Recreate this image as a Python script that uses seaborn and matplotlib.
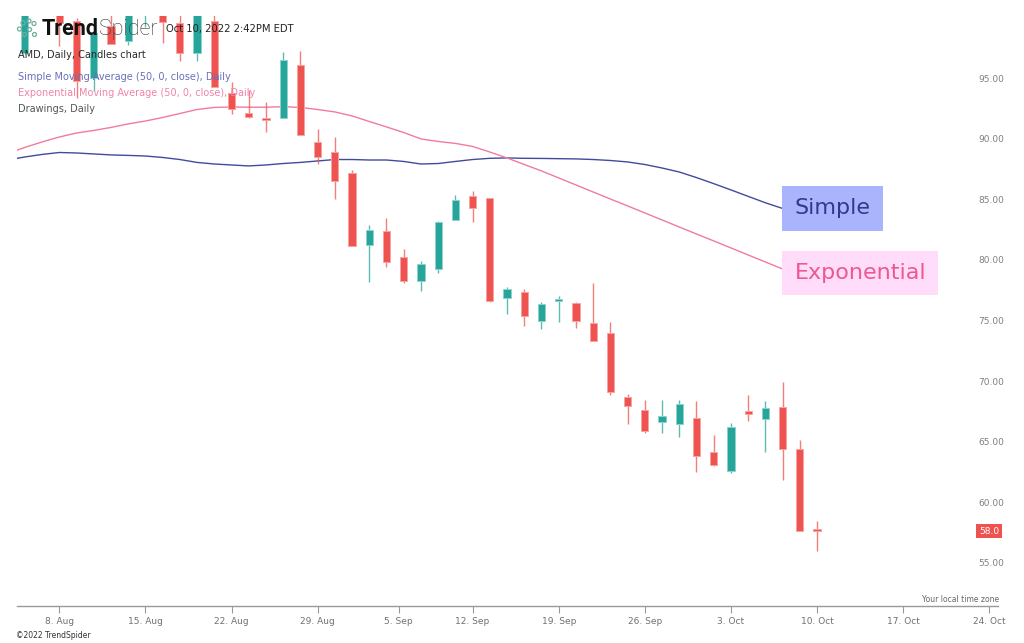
import numpy as np
import pandas as pd
import matplotlib
matplotlib.use("Agg")
import matplotlib.pyplot as plt
import matplotlib.transforms as mtransforms
from matplotlib.patches import Ellipse
import seaborn as sns

# ---------------- data ----------------
holidays = ["2022-09-05"]
candle_start, candle_end = "2022-08-04", "2022-10-10"
ma_start, ma_end = "2022-08-03", "2022-10-06"

opens = [97.12, 100.8, 101.0, 99.73, 95.06, 99.31, 98.08, 100.6, 100.9, 99.59,
         97.06, 99.73, 93.76, 92.17, 91.73, 91.68, 96.10, 89.75, 88.92, 87.14,
         81.25, 82.41, 80.24, 78.23, 79.25, 83.31, 85.29, 85.10, 76.88, 77.38,
         74.93, 76.60, 76.44, 74.77, 73.97, 68.69, 67.59, 66.60, 66.46, 66.98,
         64.10, 62.56, 67.51, 66.88, 67.87, 64.38, 57.80]
highs = [101.8, 103.0, 101.5, 100.0, 98.80, 100.6, 101.2, 102.2, 101.5, 100.5,
         101.0, 100.5, 94.69, 94.04, 93.00, 97.20, 97.25, 90.85, 90.11, 87.44,
         82.88, 83.43, 80.92, 79.93, 83.20, 85.35, 85.71, 85.10, 77.74, 77.60,
         76.50, 77.00, 76.50, 78.07, 74.85, 68.91, 68.44, 68.44, 68.44, 68.36,
         65.58, 66.52, 68.83, 68.36, 69.90, 65.17, 58.44]
lows = [97.00, 100.4, 97.66, 93.41, 93.95, 97.80, 97.75, 99.26, 97.94, 96.43,
        96.43, 94.30, 92.03, 91.73, 90.60, 91.68, 90.30, 87.91, 85.00, 81.12,
        78.15, 79.44, 78.07, 77.41, 78.92, 83.30, 83.10, 76.50, 75.54, 74.57,
        74.30, 74.85, 74.40, 73.30, 68.86, 66.46, 65.67, 65.67, 65.37, 62.48,
        63.00, 62.40, 66.69, 64.18, 61.87, 57.60, 55.93]
closes = [101.5, 102.3, 99.59, 94.78, 98.77, 97.80, 100.8, 101.8, 99.64, 97.06,
          100.6, 94.31, 92.50, 91.81, 91.56, 96.51, 90.32, 88.51, 86.48, 81.17,
          82.46, 79.85, 78.23, 79.63, 83.10, 84.96, 84.25, 76.58, 77.60, 75.35,
          76.39, 76.75, 74.93, 73.31, 69.08, 67.97, 65.91, 67.12, 68.14, 63.85,
          63.04, 66.19, 67.25, 67.76, 64.40, 57.61, 57.61]

sma50 = [88.25, 88.50, 88.71, 88.87, 88.83, 88.75, 88.67, 88.63, 88.58, 88.46,
         88.29, 88.05, 87.92, 87.84, 87.76, 87.84, 87.96, 88.05, 88.17, 88.29,
         88.29, 88.25, 88.25, 88.13, 87.92, 87.96, 88.13, 88.29, 88.39, 88.42,
         88.39, 88.38, 88.36, 88.34, 88.29, 88.21, 88.09, 87.88, 87.59, 87.26,
         86.80, 86.30, 85.78, 85.25, 84.72, 84.25]
ema50 = [88.79, 89.29, 89.74, 90.15, 90.48, 90.69, 90.94, 91.23, 91.47, 91.76,
         92.09, 92.42, 92.59, 92.63, 92.61, 92.61, 92.65, 92.59, 92.42, 92.22,
         91.89, 91.43, 90.98, 90.52, 89.99, 89.78, 89.62, 89.37, 88.91, 88.42,
         87.88, 87.35, 86.77, 86.19, 85.61, 85.03, 84.46, 83.88, 83.30, 82.72,
         82.14, 81.57, 80.99, 80.41, 79.83, 79.25]

tick_dates = ["2022-08-08", "2022-08-15", "2022-08-22", "2022-08-29", "2022-09-05",
              "2022-09-12", "2022-09-19", "2022-09-26", "2022-10-03", "2022-10-10",
              "2022-10-17", "2022-10-24"]
tick_labels = ["8. Aug", "15. Aug", "22. Aug", "29. Aug", "5. Sep", "12. Sep",
               "19. Sep", "26. Sep", "3. Oct", "10. Oct", "17. Oct", "24. Oct"]
price_ticks = [55, 60, 65, 70, 75, 80, 85, 90, 95]
last_price_label = "58.0"

# ---------------- calendar (trading-day axis) ----------------
days = pd.bdate_range("2022-08-01", "2022-10-31")
days = days[~days.isin(pd.to_datetime(holidays))]
origin = days.get_loc(pd.Timestamp(candle_start))


def pos(d):
    d = pd.Timestamp(d)
    if d in days:
        return days.get_loc(d) - origin
    return days.searchsorted(d) - origin - 0.3


candle_x = np.arange(pos(candle_start), pos(candle_end) + 1)
ma_x = np.arange(pos(ma_start), pos(ma_end) + 1)

# ---------------- style ----------------
sns.set_theme(style="white")
plt.rcParams["font.family"] = ["DejaVu Sans"]

UP, DOWN = "#26a69a", "#ef5350"
UP_EDGE, DOWN_EDGE = "#8fd3cc", "#f7a3a1"
SMA_C, EMA_C = "#414b9c", "#f27aa0"

W, H = 1024, 643
fig = plt.figure(figsize=(W / 100, H / 100), dpi=100)
ax_l, ax_r, ax_t, ax_b = 16.7, 998, 16, 605.7
ax = fig.add_axes([ax_l / W, 1 - ax_b / H, (ax_r - ax_l) / W, (ax_b - ax_t) / H])
ax.set_facecolor("white")

# moving averages
sns.lineplot(x=ma_x, y=sma50, ax=ax, color=SMA_C, lw=1.0, zorder=2)
sns.lineplot(x=ma_x, y=ema50, ax=ax, color=EMA_C, lw=1.0, zorder=2)

# candles
o = np.array(opens); c = np.array(closes); hi = np.array(highs); lo = np.array(lows)
up = c >= o
cols = np.where(up, UP, DOWN)
edges = np.where(up, UP_EDGE, DOWN_EDGE)
ax.vlines(candle_x, lo, hi, colors=cols, lw=1.0, alpha=0.75, zorder=3)
bottoms = np.minimum(o, c)
heights = np.maximum(np.abs(c - o), 0.15)
ax.bar(candle_x, heights, bottom=bottoms, width=0.42, color=cols,
       edgecolor=edges, linewidth=0.7, zorder=4)

ax.set_xlim(-0.474, 56.51)
ax.set_ylim(51.45, 100.14)

# axes styling
for s in ["left", "top", "right"]:
    ax.spines[s].set_visible(False)
ax.spines["bottom"].set_color("#9a9a9a")
ax.spines["bottom"].set_linewidth(1.0)
ax.set_xticks([pos(d) for d in tick_dates])
ax.set_xticklabels(tick_labels)
ax.tick_params(axis="x", bottom=True, length=5, width=0.8, color="#9a9a9a",
               labelsize=6.5, labelcolor="#707070", pad=3)
ax.yaxis.tick_right()
ax.set_yticks(price_ticks)
ax.set_yticklabels([f"{v:.2f}" for v in price_ticks])
ax.tick_params(axis="y", right=True, length=0, labelsize=6.5,
               labelcolor="#808080", pad=-14.4)
ax.grid(False)
ax.set_xlabel("")
ax.set_ylabel("")

# end-of-line labels
ax.annotate("Simple", xy=(ma_x[-1], sma50[-1]), xytext=(12, 0),
            textcoords="offset pixels", ha="left", va="center", fontsize=16,
            color="#2f3a8f", zorder=6,
            bbox=dict(boxstyle="square,pad=0.55", fc="#aab4fc", ec="none"))
ax.annotate("Exponential", xy=(ma_x[-1], ema50[-1]), xytext=(12, -4),
            textcoords="offset pixels", ha="left", va="center", fontsize=16,
            color="#ea5a8e", zorder=6,
            bbox=dict(boxstyle="square,pad=0.55", fc="#ffdcfa", ec="none"))

# last price tag
trans = mtransforms.blended_transform_factory(ax.transAxes, ax.transData)
ax.text((979 - ax_l) / (ax_r - ax_l), closes[-1], last_price_label, transform=trans,
        ha="left", va="center", fontsize=6.5, color="white", zorder=7,
        bbox=dict(boxstyle="square,pad=0.3", fc=DOWN, ec="none"))


def fx(x):
    return x / W


def fy(y):
    return 1 - y / H


# header / legend texts
logo_dots = [(19.5, 29), (23, 23), (29, 21), (24.5, 34.5), (29.5, 29.5), (34.5, 34.5), (34, 23.5)]
for (px, py) in logo_dots:
    fig.add_artist(Ellipse((fx(px), fy(py)), 4.0 / W, 4.0 / H, transform=fig.transFigure,
                           fill=False, ec="#6fae9f", lw=0.9, zorder=10))
t1 = fig.text(fx(41.5), fy(29.3), "Trend", fontsize=15.5, fontweight="bold",
              color="#111111", va="center", ha="left", family=["Roboto", "DejaVu Sans"], zorder=10)
ax.annotate("Spider", xy=(1, 0), xycoords=t1, va="bottom", ha="left", fontsize=15.5,
            fontweight="light", color="#3a3a3a", family=["Roboto", "DejaVu Sans"],
            annotation_clip=False, zorder=10)
fig.text(fx(166.5), fy(29.3), "Oct 10, 2022 2:42PM EDT", fontsize=7.2, color="#222222",
         va="center", ha="left", zorder=10)
fig.text(fx(18.5), fy(55), "AMD, Daily, Candles chart", fontsize=7, color="#2a2a2a",
         va="center", ha="left", zorder=10)
fig.text(fx(18.5), fy(76.7), "Simple Moving Average (50, 0, close), Daily", fontsize=7,
         color="#6870b8", va="center", ha="left", zorder=10)
fig.text(fx(18.5), fy(93.3), "Exponential Moving Average (50, 0, close), Daily", fontsize=7,
         color="#f084ab", va="center", ha="left", zorder=10)
fig.text(fx(18.5), fy(109.3), "Drawings, Daily", fontsize=7, color="#555555",
         va="center", ha="left", zorder=10)

fig.text(fx(999), fy(600), "Your local time zone", fontsize=5.5, color="#666666",
         va="center", ha="right")
fig.text(fx(16), fy(635), "\u00a92022 TrendSpider", fontsize=5.5, color="#333333",
         va="center", ha="left")

fig.savefig("out.png", dpi=100, facecolor="white")
